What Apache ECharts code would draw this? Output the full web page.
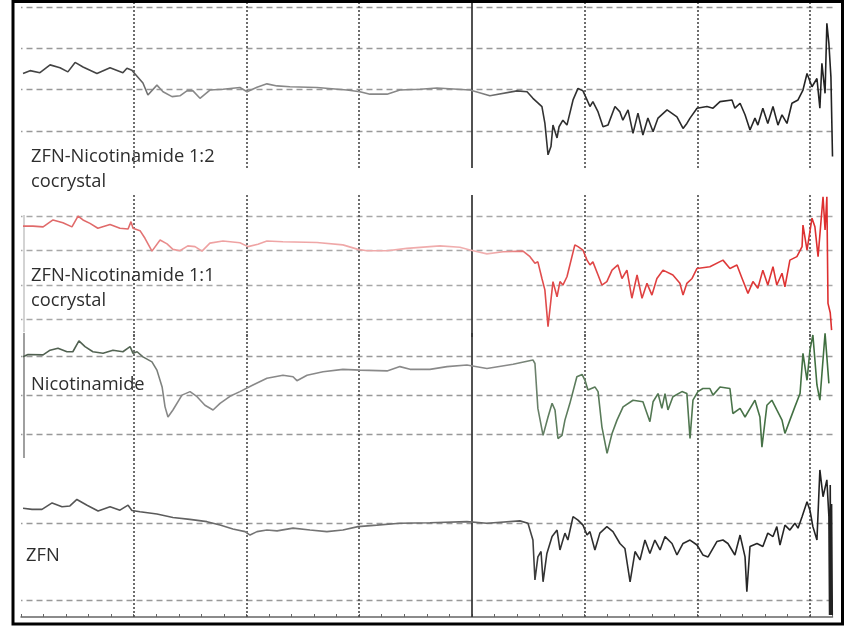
<!DOCTYPE html>
<html>
<head>
<meta charset="utf-8">
<script src="https://cdn.jsdelivr.net/npm/echarts@6/dist/echarts.min.js"></script>
<style>
html,body{margin:0;padding:0;background:#fff;}
#chart{width:853px;height:633px;}
</style>
</head>
<body>
<div id="chart"></div>
<script>
// ---- Data (wavenumber cm-1, transmittance in arbitrary % units per panel) ----
const panelLabels = ['ZFN-Nicotinamide 1:2\ncocrystal', 'ZFN-Nicotinamide 1:1\ncocrystal', 'Nicotinamide', 'ZFN'];
const wavenumberGrid = [3500, 3000, 2500, 1500, 1000, 500];
const wavenumberSolid = 2000;
const gridValues1 = [60, 70, 80, 90];
const gridValues2 = [60, 70, 80, 90];
const gridValues3 = [60, 70, 80];
const gridValues4 = [50, 70];

const cocrystal12 = [
[3991,73.9],[3960,74.6],[3916,74.1],[3871,76.0],[3827,75.3],[3792,74.3],[3760,76.6],[3725,75.5],[3663,73.9],[3605,75.3],
[3548,74.1],[3530,75.2],[3508,74.7],[3494,73.8],[3459,71.6],[3437,68.7],[3397,71.1],[3370,69.5],[3330,68.3],[3295,68.5],
[3264,69.7],[3237,69.7],[3206,67.9],[3162,69.9],[3104,70.1],[3029,70.5],[2997,69.5],[2953,70.6],[2909,71.4],[2864,70.9],
[2807,70.7],[2687,70.5],[2554,69.9],[2496,69.5],[2452,68.9],[2376,68.9],[2319,69.9],[2230,70.1],[2155,70.4],[2008,69.9],
[1920,68.5],[1800,69.7],[1755,69.5],[1729,67.9],[1707,66.8],[1689,65.9],[1676,61.9],[1662,54.2],[1649,56.2],[1640,61.4],
[1622,58.3],[1613,61.0],[1596,62.6],[1578,61.4],[1551,67.5],[1529,70.3],[1507,69.7],[1489,67.5],[1476,65.9],[1463,67.1],
[1440,64.6],[1418,61.0],[1396,61.4],[1365,65.9],[1343,64.6],[1330,62.6],[1307,65.1],[1285,59.4],[1263,64.3],[1241,59.0],
[1219,63.1],[1196,59.8],[1174,63.1],[1134,65.1],[1090,63.4],[1063,60.6],[1046,61.8],[1032,63.1],[1001,65.5],[957,65.9],
[930,65.5],[899,67.1],[846,67.5],[833,65.5],[810,66.7],[788,63.9],[766,60.2],[744,63.1],[731,61.4],[709,65.5],
[687,61.8],[664,65.9],[642,61.4],[624,63.9],[602,61.8],[580,66.7],[553,67.5],[531,69.9],[513,73.9],[491,70.7],
[469,72.7],[456,65.5],[447,76.4],[433,69.1],[425,86.1],[416,81.2],[407,73.1],[400,53.8]
];

const cocrystal11 = [
[3991,87.0],[3947,87.0],[3902,86.8],[3858,88.8],[3814,88.0],[3774,86.8],[3747,89.9],[3725,88.8],[3694,87.8],[3659,86.4],
[3605,87.5],[3561,86.4],[3525,86.2],[3512,88.3],[3503,86.4],[3472,85.7],[3450,83.5],[3419,79.8],[3383,83.0],[3352,81.9],
[3326,80.3],[3295,79.9],[3260,81.3],[3228,81.1],[3197,79.8],[3162,82.1],[3104,82.7],[3029,82.2],[2993,81.1],[2949,81.8],
[2909,82.7],[2838,82.5],[2687,82.3],[2572,81.6],[2505,80.3],[2465,79.9],[2376,79.9],[2288,80.6],[2186,81.1],[2141,81.3],
[2053,80.9],[2008,80.1],[1933,79.0],[1862,79.6],[1773,79.8],[1742,78.2],[1720,76.3],[1707,76.7],[1689,71.9],[1676,68.6],
[1662,58.0],[1649,65.7],[1640,71.0],[1622,66.6],[1609,71.0],[1596,70.0],[1578,72.4],[1543,81.6],[1529,81.1],[1507,80.1],
[1489,77.2],[1476,75.8],[1463,76.7],[1440,72.9],[1423,70.0],[1401,71.0],[1378,74.3],[1352,75.8],[1334,71.9],[1312,74.3],
[1290,66.2],[1267,72.9],[1245,66.2],[1223,70.5],[1201,67.1],[1179,71.9],[1152,74.3],[1108,72.9],[1077,70.5],[1063,67.1],
[1046,70.5],[1023,71.9],[1001,74.8],[944,75.3],[886,77.2],[855,74.8],[824,75.8],[801,71.9],[775,67.6],[753,71.0],
[731,69.1],[709,74.3],[687,70.0],[664,75.3],[647,70.0],[624,73.4],[611,69.5],[589,77.2],[558,78.2],[535,81.1],
[531,87.3],[513,80.1],[491,89.3],[478,86.8],[464,78.2],[442,95.5],[433,85.9],[425,95.5],[420,64.7],[410,62.0],[404,57.0]
];

const nicotinamide = [
[3991,79.9],[3969,80.5],[3902,80.4],[3871,81.6],[3836,82.1],[3796,81.2],[3770,81.2],[3743,84.0],[3716,82.5],[3681,81.2],
[3636,80.8],[3592,81.6],[3548,81.2],[3516,82.5],[3503,80.8],[3485,81.2],[3459,79.9],[3419,78.6],[3397,76.5],[3374,72.2],
[3361,67.1],[3348,64.5],[3326,66.3],[3286,70.1],[3250,71.0],[3219,69.7],[3184,67.5],[3148,66.3],[3117,68.0],[3073,69.8],
[3029,71.0],[2971,72.7],[2909,74.4],[2838,75.2],[2793,74.8],[2776,73.8],[2731,75.2],[2660,76.1],[2572,76.7],[2496,76.5],
[2376,76.3],[2319,77.4],[2274,76.7],[2186,76.7],[2110,77.4],[2022,77.8],[1933,76.9],[1817,78.0],[1729,79.1],[1720,78.2],
[1707,66.7],[1684,59.8],[1662,64.5],[1644,68.0],[1631,66.3],[1618,59.0],[1600,59.8],[1587,63.7],[1565,68.0],[1534,74.8],
[1511,75.4],[1498,73.9],[1485,71.4],[1454,72.2],[1440,71.0],[1423,62.0],[1400,55.2],[1378,60.3],[1356,63.7],[1329,67.1],
[1285,68.8],[1241,68.4],[1210,63.3],[1196,68.4],[1174,70.5],[1157,66.7],[1143,70.5],[1130,66.3],[1108,69.7],[1068,71.0],
[1046,70.5],[1032,59.0],[1019,68.8],[997,71.0],[975,71.8],[944,71.8],[930,70.1],[899,72.2],[855,71.8],[842,65.4],
[810,66.7],[788,64.5],[744,68.8],[722,64.5],[713,56.8],[691,67.5],[669,68.8],[647,66.3],[624,63.7],[611,60.3],
[589,63.7],[567,67.1],[544,70.5],[531,80.8],[513,73.9],[500,81.6],[487,85.5],[469,72.7],[456,68.8],[433,85.9],[416,73.1]
];

const zfn = [
[3991,73.9],[3951,73.6],[3907,73.6],[3862,75.3],[3818,74.3],[3783,74.5],[3752,76.2],[3707,74.7],[3658,73.2],[3605,74.3],
[3561,73.4],[3525,74.7],[3508,73.3],[3472,73.0],[3397,72.4],[3326,71.5],[3251,71.0],[3175,70.4],[3117,69.5],[3060,68.5],
[3006,67.8],[2984,66.9],[2953,67.8],[2909,68.2],[2864,68.0],[2793,68.7],[2718,68.2],[2643,67.8],[2572,68.2],[2505,69.1],
[2421,69.5],[2319,70.0],[2186,70.1],[2022,70.4],[1933,70.0],[1787,70.6],[1751,70.0],[1729,65.6],[1720,55.2],[1707,61.2],
[1693,62.6],[1684,54.7],[1667,62.1],[1644,66.5],[1622,68.2],[1609,63.0],[1587,67.4],[1574,65.6],[1551,71.7],[1529,70.8],
[1507,69.5],[1489,66.9],[1476,67.8],[1454,63.0],[1432,67.4],[1401,69.1],[1374,67.8],[1343,64.7],[1321,63.4],[1298,54.7],
[1276,62.6],[1254,60.4],[1232,65.6],[1210,62.1],[1188,65.6],[1165,63.0],[1143,66.5],[1112,64.7],[1090,61.7],[1063,64.7],
[1032,65.6],[1001,64.3],[975,61.7],[952,61.2],[913,65.2],[886,65.6],[864,64.7],[833,61.7],[810,66.9],[788,61.2],
[780,52.1],[766,63.9],[735,64.7],[709,63.9],[687,67.4],[664,66.5],[647,69.1],[633,64.3],[611,69.5],[589,68.2],
[567,70.0],[553,68.7],[535,71.7],[513,75.6],[500,73.4],[487,69.1],[469,65.6],[456,83.9],[442,76.9],[425,81.3],
[416,71.7],[413,46.0],[410,80.0],[407,46.0],[404,75.0],[401,46.0]
];

// ---- Layout ----
const grids = [
  {top: 3,   height: 165, min: 51,   max: 91},
  {top: 195, height: 142, min: 55,   max: 96},
  {top: 333, height: 127, min: 53.5, max: 86},
  {top: 460, height: 157, min: 45.5, max: 86.5}
];

const chart = echarts.init(document.getElementById('chart'), null, {renderer: 'canvas'});
const G = echarts.graphic.LinearGradient;

function gridMarks(hVals, hColor, extra) {
  const d = [];
  hVals.forEach(v => d.push({yAxis: v, lineStyle: {type: [6, 4], color: hColor, width: 1.3}}));
  wavenumberGrid.forEach(v => d.push({xAxis: v, lineStyle: {type: [2, 2], color: '#4a4a4a', width: 1.6}}));
  d.push({xAxis: wavenumberSolid, lineStyle: {type: 'solid', color: '#333', width: 1.7}});
  return d.concat(extra || []);
}

function spectrum(i, data, stops, hVals, hColor, extra) {
  return {
    type: 'line', xAxisIndex: i, yAxisIndex: i, data: data,
    showSymbol: false, symbol: 'none', smooth: false, z: 3,
    lineStyle: {width: 1.6, color: new G(0, 0, 1, 0, stops)},
    markLine: {silent: true, symbol: 'none', z: 1, label: {show: false}, animation: false,
      data: gridMarks(hVals, hColor, extra)}
  };
}

const option = {
  animation: false,
  backgroundColor: '#fff',
  grid: grids.map(g => ({left: 21, width: 811.5, top: g.top, height: g.height, containLabel: false})),
  xAxis: grids.map((g, i) => ({
    type: 'value', gridIndex: i, min: 400, max: 4000, inverse: true, interval: 100,
    axisLine: {show: i === 3, lineStyle: {color: '#666', width: 1.5}},
    axisTick: {show: i === 3, inside: true, length: 3, lineStyle: {color: '#666'}},
    axisLabel: {show: false}, splitLine: {show: false}
  })),
  yAxis: grids.map((g, i) => ({
    type: 'value', gridIndex: i, min: g.min, max: g.max,
    axisLine: {show: false}, axisTick: {show: false}, axisLabel: {show: false}, splitLine: {show: false}
  })),
  series: [
    spectrum(0, cocrystal12, [
      {offset: 0, color: '#444'}, {offset: 0.13, color: '#444'}, {offset: 0.17, color: '#888'},
      {offset: 0.56, color: '#888'}, {offset: 0.63, color: '#333'}, {offset: 1, color: '#222'}],
      gridValues1, '#999'),
    spectrum(1, cocrystal11, [
      {offset: 0, color: '#e06a6a'}, {offset: 0.14, color: '#e06a6a'}, {offset: 0.2, color: '#eea0a0'},
      {offset: 0.58, color: '#f0b0b0'}, {offset: 0.64, color: '#e04c4c'}, {offset: 1, color: '#dd2e2e'}],
      gridValues2, '#a8a8a8',
      [[{coord: [3987, 90.2], lineStyle: {type: 'solid', color: '#c4c4c4', width: 1.5}}, {coord: [3987, 56.4]}]]),
    spectrum(2, nicotinamide, [
      {offset: 0, color: '#4e5e4e'}, {offset: 0.14, color: '#556655'}, {offset: 0.18, color: '#888'},
      {offset: 0.6, color: '#8a8a8a'}, {offset: 0.65, color: '#5f7d5f'}, {offset: 1, color: '#3f6f3f'}],
      gridValues3, '#999',
      [[{coord: [3987, 86], lineStyle: {type: 'solid', color: '#888', width: 1.6}}, {coord: [3987, 54]}]]),
    spectrum(3, zfn, [
      {offset: 0, color: '#555'}, {offset: 0.14, color: '#555'}, {offset: 0.3, color: '#777'},
      {offset: 0.6, color: '#666'}, {offset: 0.64, color: '#333'}, {offset: 1, color: '#222'}],
      gridValues4, '#999')
  ],
  graphic: [
    {type: 'text', left: 31, top: 144, z: 10, style: {text: panelLabels[0], font: '18.3px "Open Sans"', lineHeight: 25, fill: '#2e2e2e'}},
    {type: 'text', left: 31, top: 263, z: 10, style: {text: panelLabels[1], font: '18.3px "Open Sans"', lineHeight: 25, fill: '#2e2e2e'}},
    {type: 'text', left: 31, top: 372, z: 10, style: {text: panelLabels[2], font: '18.3px "Open Sans"', lineHeight: 25, fill: '#2e2e2e'}},
    {type: 'text', left: 26, top: 543, z: 10, style: {text: panelLabels[3], font: '18.3px "Open Sans"', lineHeight: 25, fill: '#2e2e2e'}},
    {type: 'rect', z: 20, silent: true, shape: {x: 13, y: 1.5, width: 829.5, height: 622.5},
      style: {fill: 'none', stroke: '#000', lineWidth: 3}}
  ]
};
chart.setOption(option);
</script>
</body>
</html>
